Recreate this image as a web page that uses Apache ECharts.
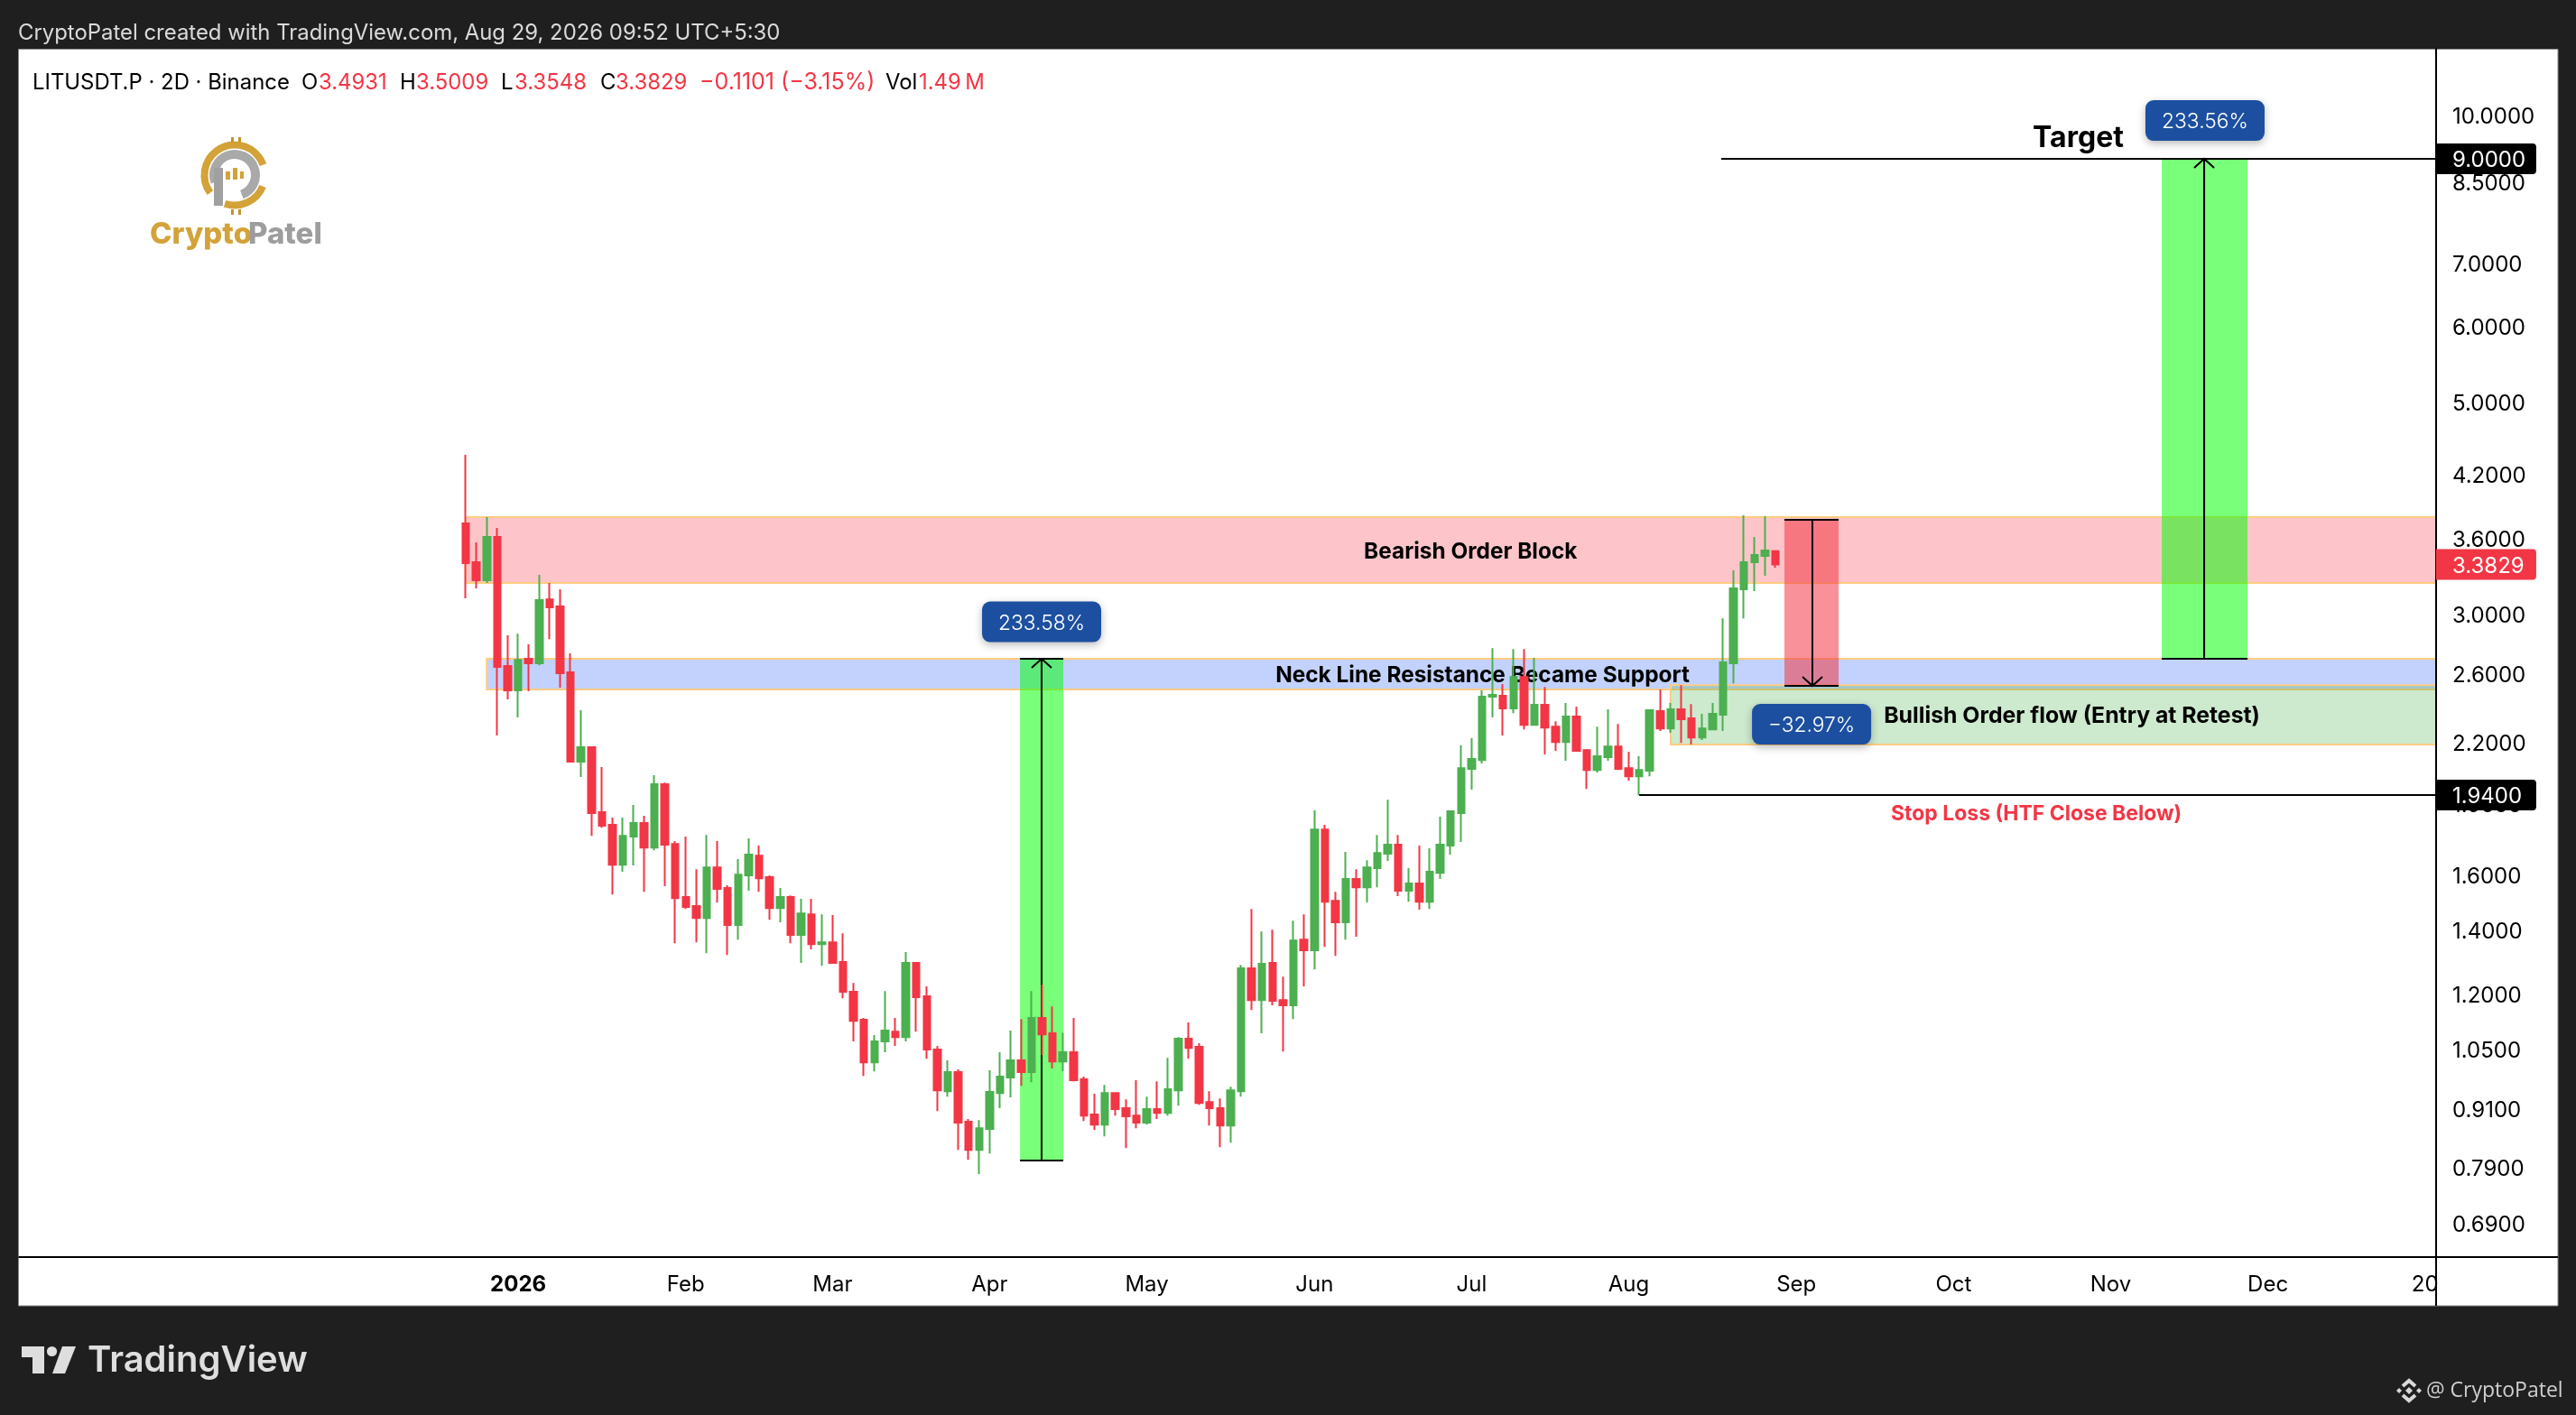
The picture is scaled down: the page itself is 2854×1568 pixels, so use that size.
<!DOCTYPE html>
<html><head><meta charset="utf-8"><style>html,body{margin:0;padding:0;background:#1f1f1f}#c{width:2854px;height:1568px}</style>
<script src="https://cdn.jsdelivr.net/npm/echarts@6/dist/echarts.min.js"></script></head>
<body><div id="c"></div>
<script>
const opens=[3.734,3.401,3.256,3.614,2.648,2.497,2.694,2.665,3.110,3.057,2.608,2.102,2.177,1.861,1.805,1.640,1.755,1.813,1.709,1.991,1.724,1.517,1.484,1.442,1.629,1.550,1.418,1.598,1.676,1.591,1.477,
1.517,1.384,1.455,1.354,1.360,1.297,1.207,1.128,1.018,1.071,1.096,1.082,1.294,1.194,1.050,0.9497,0.9942,0.8820,0.8244,0.8668,0.9456,0.9813,1.023,0.9942,1.133,1.092,1.020,1.043,0.9770,
0.8975,0.8762,0.9456,0.9113,0.8955,0.8801,0.9093,0.9014,0.9518,1.078,1.057,0.9252,0.9113,0.8743,0.9497,1.277,1.183,1.294,1.183,1.168,1.369,1.334,1.785,1.503,1.427,1.584,1.553,1.626,1.684,
1.721,1.540,1.567,1.500,1.608,1.717,1.857,2.066,2.111,2.459,2.464,2.390,2.579,2.298,2.411,2.288,2.205,2.344,2.162,2.061,2.125,2.181,2.070,2.030,2.057,2.375,2.278,2.385,2.334,2.229,2.273,
2.354,2.665,3.186,3.401,3.453,3.4931];
const highs=[4.406,3.568,3.792,3.694,2.851,2.863,2.790,3.299,3.235,3.186,2.730,2.380,2.177,2.075,1.837,1.837,1.894,1.845,2.035,1.999,1.736,1.755,1.622,1.762,1.736,1.560,1.662,1.747,1.717,1.598,1.550,
1.523,1.510,1.510,1.455,1.452,1.390,1.233,1.133,1.087,1.209,1.133,1.328,1.297,1.223,1.059,1.023,1.001,0.8878,0.8858,0.9985,1.043,1.099,1.130,1.209,1.228,1.165,1.094,1.133,0.9834,0.9436,
0.9643,0.9456,0.9313,0.9749,0.9374,0.9727,1.029,1.082,1.121,1.066,0.9497,0.9333,0.9601,1.288,1.474,1.396,1.402,1.252,1.433,1.455,1.869,1.805,1.536,1.691,1.622,1.658,1.762,1.918,1.762,1.626,
1.717,1.706,1.841,1.865,2.186,2.225,2.497,2.765,2.535,2.759,2.759,2.700,2.518,2.318,2.422,2.401,2.167,2.288,2.385,2.303,2.153,2.130,2.385,2.502,2.422,2.529,2.416,2.359,2.422,2.971,3.335,
3.808,3.614,3.800,3.5009];
const lows=[3.117,3.193,3.235,2.239,2.443,2.339,2.491,2.653,2.826,2.513,2.102,2.026,1.758,1.793,1.526,1.612,1.637,1.536,1.698,1.557,1.357,1.474,1.360,1.325,1.497,1.319,1.369,1.540,1.536,1.436,1.427,
1.357,1.294,1.337,1.285,1.291,1.188,1.071,0.9855,0.9963,1.043,1.059,1.071,1.096,1.027,0.9053,0.9374,0.8244,0.8049,0.7774,0.8173,0.9113,0.9354,0.9622,0.9706,1.036,1.003,0.9963,0.9727,0.8839,
0.8649,0.8518,0.8955,0.8280,0.8686,0.8762,0.8878,0.8955,0.9172,1.027,0.9192,0.8743,0.8298,0.8389,0.9374,1.155,1.092,1.168,1.045,1.130,1.223,1.274,1.345,1.316,1.369,1.378,1.497,1.553,1.655,
1.520,1.500,1.471,1.474,1.584,1.680,1.732,1.965,2.093,2.339,2.239,2.364,2.273,2.298,2.139,2.158,2.107,2.158,1.969,2.048,2.107,2.061,2.008,1.939,2.030,2.264,2.254,2.200,2.191,2.215,2.273,
2.264,2.540,2.971,3.172,3.292,3.3548];
const closes=[3.393,3.256,3.614,2.642,2.497,2.688,2.665,3.104,3.050,2.602,2.102,2.177,1.857,1.801,1.640,1.758,1.813,1.709,1.991,1.721,1.513,1.481,1.442,1.629,1.547,1.418,1.601,1.680,1.587,1.477,1.517,
1.384,1.458,1.354,1.360,1.294,1.207,1.125,1.018,1.071,1.099,1.082,1.294,1.191,1.050,0.9518,0.9942,0.8801,0.8244,0.8686,0.9477,0.9834,1.023,0.9942,1.133,1.089,1.020,1.043,0.9749,0.8955,
0.8762,0.9456,0.9093,0.8936,0.8801,0.9093,0.9014,0.9539,1.078,1.054,0.9232,0.9113,0.8743,0.9518,1.277,1.183,1.291,1.181,1.168,1.366,1.334,1.785,1.500,1.427,1.584,1.553,1.629,1.687,1.721,
1.540,1.567,1.500,1.612,1.721,1.865,2.070,2.116,2.459,2.470,2.390,2.579,2.298,2.411,2.283,2.205,2.344,2.158,2.061,2.130,2.181,2.066,2.030,2.061,2.380,2.278,2.385,2.329,2.229,2.278,2.359,
2.671,3.193,3.401,3.461,3.498,3.3829];
const priceTicks=[10,8.5,7,6,5,4.2,3.6,3,2.6,2.2,1.9,1.6,1.4,1.2,1.05,0.91,0.79,0.69];
const timeLabels=['2026','Feb','Mar','Apr','May','Jun','Jul','Aug','Sep','Oct','Nov','Dec','20'];
const timeLabelBars=[5,21,35,50,65,81,96,111,127,142,157,172,187];
// zones: from bar, to bar, top price, bottom price
const zoneBearish=[0,188.05,3.792,3.235];
const zoneNeck=[2,188.05,2.694,2.502];
const zoneBullish=[115,188.05,2.529,2.191];
// measures: left bar, right bar, mid bar, start price, end price
const measureApril=[52.9,57.03,54.96,0.8032,2.694];
const measureDrop=[125.86,131.03,128.53,3.767,2.524];
const measureTarget=[161.87,170.06,165.92,2.694,9.0];
const hLines=[[119.83,188.05,9.0],[112,188.05,1.94]];
const zoneTexts=[[95.9,3.483,'Bearish Order Block'],[97.04,2.585,'Neck Line Resistance Became Support'],[153.3,2.345,'Bullish Order flow (Entry at Retest)']];
const overlayTexts=[[153.9,9.45,'Target'],[149.9,1.853,'Stop Loss (HTF Close Below)']];
const pills=[[54.96,2.946,'233.58%'],[128.45,2.301,'\u221232.97%'],[166.0,9.87,'233.56%']];
const priceTags=[[9.0,'#000000'],[1.94,'#000000'],[3.3829,'#f23645']];

const PAD=42, NCAT=231, FONT='Inter, sans-serif';
const categories=Array.from({length:NCAT},(_,k)=>String(k));
const candles=opens.map((o,i)=>[i+PAD,o,closes[i],lows[i],highs[i]]);
const catLabel={};timeLabelBars.forEach((b,j)=>catLabel[b+PAD]=timeLabels[j]);
const ZF=['#fdc5ca','#c2d2fd','rgba(76,175,80,0.28)'];
const MF=['rgba(0,255,0,0.52)','rgba(242,54,69,0.55)','rgba(0,255,0,0.52)'];
const ZFS=[24.4,24.4,24.8];
const chart=echarts.init(document.getElementById('c'),null,{renderer:'canvas',width:2854,height:1568});
const T=(x,y,text,fill,size,weight,family)=>({type:'text',x,y,z:1,silent:true,style:{text,fill,font:`${weight||400} ${size}px ${family||FONT}`,textVerticalAlign:'middle',textBaseline:'middle'}});
const R=(x,y,w,h,fill,z)=>({type:'rect',z:z||1,silent:true,shape:{x,y,width:w,height:h},style:{fill}});
const deg=d=>d*Math.PI/180;
const arc=(cx,cy,r,a0,a1,color,w)=>({type:'arc',z:1,silent:true,shape:{cx,cy,r,startAngle:deg(a0),endAngle:deg(a1),clockwise:true},style:{stroke:color,lineWidth:w,fill:null}});
const GOLD='#d3a238',FS=23.9,TY=91.5;
const graphicEls=[
 {type:'rect',z:-100,silent:true,shape:{x:20.5,y:54.5,width:2813.5,height:1392.5},style:{fill:'#fff',stroke:'#8a8a8a',lineWidth:1}},
 R(20.5,1392,2813.5,2,'#000',1),
 R(2698,1393,2,54,'#000',1),
 T(20,36.5,'CryptoPatel created with TradingView.com, Aug 29, 2026 09:52 UTC+5:30','#dadada',FS),
 T(36,TY,'LITUSDT.P \u00b7 2D \u00b7 Binance','#000',FS),
 T(334,TY,'O','#000',FS),T(353,TY,'3.4931','#f23645',FS),
 T(443,TY,'H','#000',FS),T(461,TY,'3.5009','#f23645',FS),
 T(555,TY,'L','#000',FS),T(570,TY,'3.3548','#f23645',FS),
 T(665,TY,'C','#000',FS),T(682,TY,'3.3829','#f23645',FS),
 T(775,TY,'\u22120.1101 (\u22123.15%)','#f23645',25),
 T(981,TY,'Vol','#000',FS),T(1018,TY,'1.49\u2009M','#f23645',FS),
 // logo
 arc(260,194,33.5,144,340,GOLD,8),
 arc(260,194,33.5,22,109,GOLD,8),
 R(256,152,3,6,'#c4952f'),R(264,152,3,6,'#c4952f'),R(256,232,3,6,'#c4952f'),R(264,232,3,6,'#c4952f'),
 arc(260,194,23,160,430,'#a9a9a9',10),
 R(237,186,10,42,'#a0a0a0'),
 R(250,190,5,9,GOLD),R(258,186,5,13,GOLD),R(266,190,4,8,GOLD),
 T(166,260,'Crypto',GOLD,33,800),T(275,260,'Patel','#9d9d9d',33,800),
 // TradingView footer
 {type:'polygon',z:1,silent:true,shape:{points:[[24,1492],[49,1492],[49,1522],[36,1522],[36,1504],[24,1504]]},style:{fill:'#dedede'}},
 {type:'circle',z:1,silent:true,shape:{cx:57.5,cy:1497.5,r:5.6},style:{fill:'#dedede'}},
 {type:'polygon',z:1,silent:true,shape:{points:[[69,1492],[84,1492],[72,1522],[58,1522]]},style:{fill:'#dedede'}},
 T(97,1508,'TradingView','#dedede',40,600),
 // bottom-right signature
 {type:'polyline',z:1,silent:true,shape:{points:[[2662,1536],[2669,1530],[2676,1536]]},style:{stroke:'#d8d8d8',lineWidth:4,fill:null}},
 {type:'polyline',z:1,silent:true,shape:{points:[[2662,1546],[2669,1552],[2676,1546]]},style:{stroke:'#d8d8d8',lineWidth:4,fill:null}},
 {type:'polygon',z:1,silent:true,shape:{points:[[2669,1537],[2673,1541],[2669,1545],[2665,1541]]},style:{fill:'#d8d8d8'}},
 {type:'polygon',z:1,silent:true,shape:{points:[[2658,1538],[2661,1541],[2658,1544],[2655,1541]]},style:{fill:'#d8d8d8'}},
 {type:'polygon',z:1,silent:true,shape:{points:[[2680,1538],[2683,1541],[2680,1544],[2677,1541]]},style:{fill:'#d8d8d8'}},
 T(2688,1541,'@ CryptoPatel','#cfcfcf',23,400,'"Open Sans", sans-serif')
];
const rectOf=(api,x0,x1,p0,p1)=>{const a=api.coord([x0,p0]),b=api.coord([x1,p1]);return {x:a[0],y:a[1],width:b[0]-a[0],height:b[1]-a[1]};};
chart.setOption({
 animation:false,backgroundColor:'#1f1f1f',
 graphic:{elements:graphicEls},
 grid:{left:22.7,top:54,width:2681.45,height:1339,containLabel:false},
 xAxis:[
  {type:'category',data:categories,boundaryGap:true,position:'bottom',axisLine:{show:false},axisTick:{show:false},splitLine:{show:false},
   axisLabel:{margin:18.5,interval:(k)=>catLabel[k]!==undefined,formatter:(v,k)=>{const s=catLabel[k]||'';return s==='2026'?'{b|2026}':s;},color:'#000',fontFamily:FONT,fontSize:24,rich:{b:{fontWeight:700,fontSize:24,fontFamily:FONT,color:'#000'}},hideOverlap:false}},
  {type:'value',show:false,min:-PAD-0.5,max:NCAT-PAD-0.5}
 ],
 yAxis:{type:'log',logBase:10,min:0.6365,max:11.735,position:'right',offset:-5.15,z:1,
  axisLine:{show:true,onZero:false,lineStyle:{color:'#000',width:2}},axisTick:{show:false},splitLine:{show:false},minorTick:{show:false},
  axisLabel:{customValues:priceTicks,margin:18,align:'left',verticalAlign:'top',lineHeight:4,color:'#000',fontFamily:FONT,fontSize:24,formatter:(v)=>Number(v).toFixed(4)}},
 series:[
  {type:'custom',name:'zones',xAxisIndex:1,z:1,encode:{x:[0,1],y:[2,3]},data:[zoneBearish,zoneNeck,zoneBullish],
   renderItem:(p,api)=>({type:'rect',shape:rectOf(api,api.value(0),api.value(1),api.value(2),api.value(3)),style:{fill:ZF[p.dataIndex],stroke:'#ffcc80',lineWidth:2}})},
  {type:'custom',name:'measures',xAxisIndex:1,z:2,encode:{x:[0,1],y:[3,4]},data:[measureApril,measureDrop,measureTarget],
   renderItem:(p,api)=>{
    const [l,r,m,s,e]=[0,1,2,3,4].map(d=>api.value(d));
    const ls=api.coord([l,s]),re=api.coord([r,e]),ms=api.coord([m,s]),me=api.coord([m,e]);
    const dir=me[1]>ms[1]?-1:1, line=(a,b)=>({type:'line',shape:{x1:a[0],y1:a[1],x2:b[0],y2:b[1]},style:{stroke:'#000',lineWidth:2}});
    return {type:'group',children:[
     {type:'rect',shape:{x:ls[0],y:Math.min(ls[1],re[1]),width:re[0]-ls[0],height:Math.abs(re[1]-ls[1])},style:{fill:MF[p.dataIndex]}},
     line([ls[0],ls[1]],[re[0],ls[1]]),line([ls[0],re[1]],[re[0],re[1]]),line(ms,me),
     {type:'polyline',shape:{points:[[me[0]-11,me[1]+dir*10],[me[0],me[1]],[me[0]+11,me[1]+dir*10]]},style:{stroke:'#000',lineWidth:2,fill:null}}
    ]};}},
  {type:'custom',name:'zoneTexts',xAxisIndex:1,z:3,encode:{x:0,y:1},data:zoneTexts,
   renderItem:(p,api)=>{const c=api.coord([api.value(0),api.value(1)]);return {type:'text',x:c[0],y:c[1],style:{text:zoneTexts[p.dataIndex][2],fill:'#000',font:`700 ${ZFS[p.dataIndex]}px ${FONT}`,textAlign:'center',textVerticalAlign:'middle',textBaseline:'middle'}};}},
  {type:'candlestick',name:'LITUSDT.P',z:5,barWidth:8,encode:{x:0,y:[1,2,3,4]},data:candles,
   itemStyle:{color:'#4caf50',color0:'#f23645',borderColor:'#4caf50',borderColor0:'#f23645',borderWidth:2}},
  {type:'custom',name:'hLines',xAxisIndex:1,z:6,encode:{x:[0,1],y:2},data:hLines,
   renderItem:(p,api)=>{const a=api.coord([api.value(0),api.value(2)]),b=api.coord([api.value(1),api.value(2)]);return {type:'line',shape:{x1:a[0],y1:a[1],x2:b[0],y2:b[1]},style:{stroke:'#000',lineWidth:2}};}},
  {type:'custom',name:'overlayTexts',xAxisIndex:1,z:7,encode:{x:0,y:1},data:overlayTexts,
   renderItem:(p,api)=>{const c=api.coord([api.value(0),api.value(1)]);const first=p.dataIndex===0;return {type:'text',x:c[0],y:c[1],style:{text:overlayTexts[p.dataIndex][2],fill:first?'#000':'#f23645',font:first?`700 32px ${FONT}`:`700 23px ${FONT}`,textAlign:'center',textVerticalAlign:'middle',textBaseline:'middle'}};}},
  {type:'custom',name:'pills',xAxisIndex:1,z:8,encode:{x:0,y:1},data:pills,
   renderItem:(p,api)=>{const c=api.coord([api.value(0),api.value(1)]);return {type:'group',children:[
     {type:'rect',shape:{x:c[0]-66,y:c[1]-22.5,width:132,height:45,r:9},style:{fill:'#1c4f9f',shadowBlur:10,shadowColor:'rgba(0,0,0,0.28)',shadowOffsetY:3}},
     {type:'text',x:c[0],y:c[1]+2,style:{text:pills[p.dataIndex][2],fill:'#fff',font:`300 22.8px ${FONT}`,textAlign:'center',textVerticalAlign:'middle',textBaseline:'middle'}}]};}},
  {type:'custom',name:'priceTags',xAxisIndex:1,z:9,encode:{x:0,y:1},data:priceTags.map(t=>[188.05,t[0]]),
   renderItem:(p,api)=>{const c=api.coord([api.value(0),api.value(1)]);const t=priceTags[p.dataIndex];return {type:'group',children:[
     {type:'rect',shape:{x:c[0],y:c[1]-17,width:111,height:34,r:[0,4,4,0]},style:{fill:t[1]}},
     {type:'text',x:c[0]+18,y:c[1]+2,style:{text:t[0].toFixed(4),fill:'#fff',font:`400 24px ${FONT}`,textAlign:'left',textVerticalAlign:'middle',textBaseline:'middle'}}]};}}
 ]
});
</script></body></html>
